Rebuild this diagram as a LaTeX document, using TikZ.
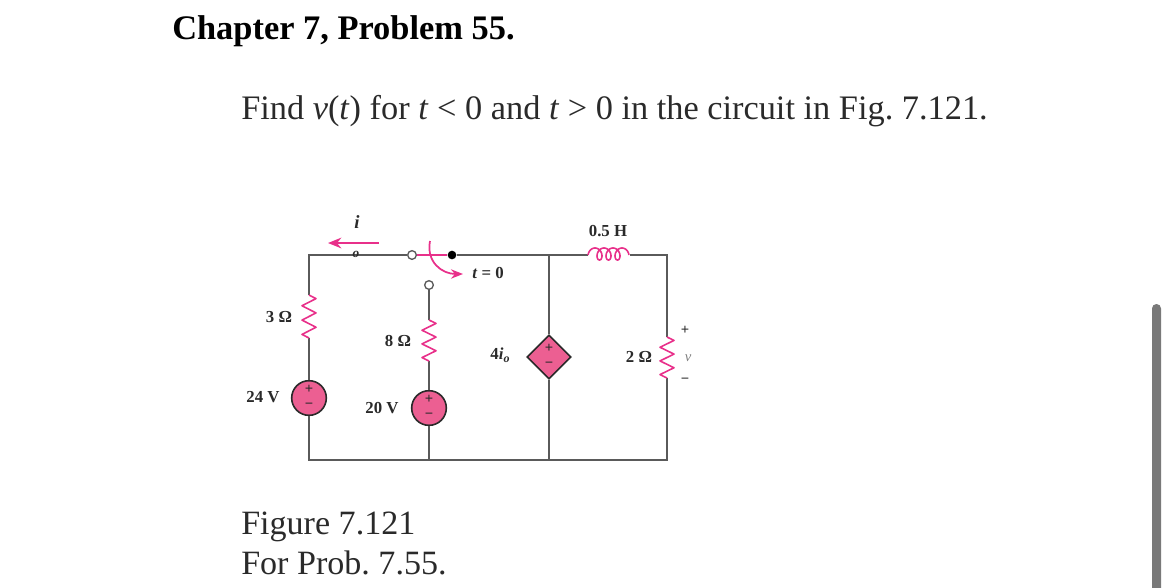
\documentclass[tikz,border=0pt]{standalone}
\usepackage{fontspec}
\setmainfont{Liberation Serif}
\usetikzlibrary{shapes.geometric,arrows.meta}
\definecolor{wirec}{HTML}{5A5A5A}
\definecolor{magc}{HTML}{E8308A}
\definecolor{fillc}{HTML}{EC5F92}
\definecolor{inkc}{HTML}{2A2A2A}
\tikzset{
  x=0.75pt,y=-0.75pt,
  wire/.style={draw=wirec,line width=1.3pt},
  pinkline/.style={draw=magc,line width=1.2pt,line join=round},
  source/.style={circle,draw=inkc,line width=1.2pt,fill=fillc,minimum size=26pt,inner sep=0pt},
  depsource/.style={diamond,draw=inkc,line width=1.2pt,fill=fillc,minimum width=33pt,minimum height=33pt,inner sep=0pt},
  openterm/.style={circle,draw=wirec,line width=1pt,fill=white,minimum size=6.5pt,inner sep=0pt},
  closedterm/.style={circle,fill=black,minimum size=6.5pt,inner sep=0pt},
  clabel/.style={font=\bfseries\fontsize{12.6}{14}\selectfont,text=inkc,inner sep=0pt},
  sign/.style={font=\bfseries\fontsize{11}{11}\selectfont,text=inkc,inner sep=0pt},
  title/.style={font=\bfseries\fontsize{25.8}{28}\selectfont,text=black,anchor=base west,inner sep=0pt},
  body/.style={font=\fontsize{25.75}{30}\selectfont,text=inkc,anchor=base west,inner sep=0pt},
  figtext/.style={font=\fontsize{25.55}{30}\selectfont,text=inkc,anchor=base west,inner sep=0pt},
}
\newcommand{\zigv}[3]{% x, top y, bottom y
  \draw[pinkline] (#1,#2) -- ++(0,0)
  \foreach \k in {0,...,5}{ -- ({#1+(mod(\k,2)==0?7:-7)},{#2+(#3-#2)*(\k+0.5)/6}) } -- (#1,#3);
}
\frenchspacing
\begin{document}
\begin{tikzpicture}
\useasboundingbox (0,0) rectangle (1170,587);
% texts
\node[title] (ttl) at (172,39) {Chapter 7, Problem 55.};
\node[body] (prob) at (241,119) {Find \textit{v}(\textit{t}) for \textit{t} < 0 and \textit{t} > 0 in the circuit in Fig. 7.121.};
\node[figtext] (figa) at (241,534) {Figure 7.121};
\node[figtext] (figb) at (241,574) {For Prob. 7.55.};
% junctions
\coordinate (tl) at (309,255);
\coordinate (bl) at (309,460);
\coordinate (tr) at (667,255);
\coordinate (br) at (667,460);
\coordinate (tm) at (549,255);
\coordinate (bm) at (549,460);
\coordinate (bc) at (429,460);
\coordinate (r3a) at (309,295);
\coordinate (r3b) at (309,338);
\coordinate (r8a) at (429,320);
\coordinate (r8b) at (429,361);
\coordinate (r2a) at (667,337);
\coordinate (r2b) at (667,378);
\coordinate (la) at (588,255);
\coordinate (lb) at (630,255);
% elements
\node[source] (v24) at (309,398) {};
\node[source] (v20) at (429,408) {};
\node[depsource] (dep) at (549,357) {};
\node[openterm] (sa) at (412,255) {};
\node[closedterm] (sb) at (452,255) {};
\node[openterm] (sc) at (429,285) {};
% wires
\draw[wire,line join=miter] (r3a) -- (tl) -- (sa);
\draw[wire] (r3b) -- (v24);
\draw[wire,line join=miter] (v24) -- (bl) -- (br) -- (r2b);
\draw[wire] (sc) -- (r8a);
\draw[wire] (r8b) -- (v20);
\draw[wire] (v20) -- (bc);
\draw[wire] (sb) -- (la);
\draw[wire,line join=miter] (lb) -- (tr) -- (r2a);
\draw[wire] (tm) -- (dep);
\draw[wire] (dep) -- (bm);
\draw[pinkline] (sa) -- (sb);
% resistors
\zigv{309}{295}{338}
\zigv{429}{320}{361}
\zigv{667}{337}{378}
% inductor
\draw[pinkline,smooth] plot[domain=-100:1180,samples=140,variable=\u] ({595+9*\u/360+4.5*sin(\u)},{254-6*cos(\u)});
% arrows
\coordinate (ia) at (379,243);
\coordinate (ib) at (328,243);
\draw[pinkline,line width=1.6pt,-{Stealth[length=10pt,width=8pt]}] (ia) -- (ib);
\coordinate (swa) at (430,241);
\coordinate (swb) at (463,274);
\draw[pinkline,line width=1.3pt,-{Stealth[length=9pt,width=7pt]}] (swa) .. controls (426,262) and (442,274) .. (swb);
% signs
\node[sign] (p24) at (309,389.5) {+};
\node[sign] (m24) at (309,406) {−};
\node[sign] (p20) at (429,399.5) {+};
\node[sign] (m20) at (429,416) {−};
\node[sign] (pd) at (549,348) {+};
\node[sign] (md) at (549,365) {−};
\node[sign] (pv) at (685,330) {+};
\node[sign] (mv) at (685,381) {−};
% labels
\node[clabel,font=\bfseries\itshape\fontsize{14}{14}\selectfont] (li) at (357,222) {i};
\node[clabel,font=\bfseries\itshape\fontsize{10}{10}\selectfont] (lo) at (356,254) {o};
\node[clabel] (lt) at (488,273) {\textit{t} = 0};
\node[clabel] (l3) at (279,317) {3 Ω};
\node[clabel] (l8) at (398,341) {8 Ω};
\node[clabel] (l2) at (639,357) {2 Ω};
\node[clabel] (l24) at (263,397) {24 V};
\node[clabel] (l20) at (382,408) {20 V};
\node[clabel] (l4) at (500,355) {4\textit{i}\raisebox{-2pt}{\fontsize{9}{10}\selectfont\textit{o}}};
\node[clabel] (l05) at (608,231) {0.5 H};
\node[clabel,font=\itshape\fontsize{11}{11}\selectfont,text=gray] (lv) at (688,358) {v};
% scroll bar
\fill[gray!95!black,rounded corners=3.3pt] (1152,304) rectangle (1161,600);
\end{tikzpicture}
\end{document}
